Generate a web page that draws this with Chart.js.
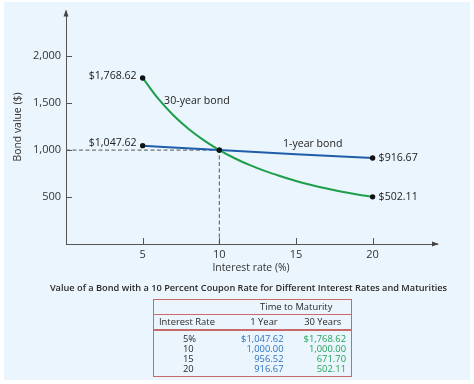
<!DOCTYPE html>
<html>
<head>
<meta charset="utf-8">
<script src="https://cdn.jsdelivr.net/npm/chart.js@4"></script>
<style>
  html, body { margin: 0; padding: 0; background: #fff; }
  body { width: 474px; height: 384px; position: relative; overflow: hidden; font-family: "Open Sans", sans-serif; }
  #panel { position: absolute; left: 4px; top: 2px; width: 466px; height: 378px; background: #eaf5fd; }
  #wrap { position: absolute; left: 0; top: 0; width: 474px; height: 384px; }
  #caption { position: absolute; left: 0; width: 497px; top: 281px; text-align: center; font-size: 9.2px; font-weight: 600; color: #2a2a2a; white-space: nowrap; }
  #tbl { position: absolute; left: 153px; top: 299px; width: 198px; border-collapse: collapse; border: 1.5px solid #c96a6a; table-layout: fixed; font-size: 9.4px; color: #2a2a2a; }
  #tbl td { padding: 0; height: 10px; line-height: 10px; white-space: nowrap; }
  #tbl tr.h1 td { height: 14px; border-bottom: 1px solid #c96a6a; }
  #tbl tr.h2 td { height: 14px; border-bottom: 2px solid #c96a6a; }
  #tbl tr.first td { padding-top: 3px; }
  #tbl tr.last td { padding-bottom: 2px; }
  .c1 { text-align: left; padding-left: 29px !important; }
  .c2 { text-align: right; padding-right: 5px !important; color: #2d72c0; }
  .c3 { text-align: right; padding-right: 5px !important; color: #25a457; }
</style>
</head>
<body>
<div id="panel"></div>
<div id="wrap"><canvas id="myChart" width="474" height="384"></canvas></div>
<div id="caption">Value of a Bond with a 10 Percent Coupon Rate for Different Interest Rates and Maturities</div>
<table id="tbl"></table>
<script>
// table values
const rates = [5, 10, 15, 20];
const oneYear = [1047.62, 1000.00, 956.52, 916.67];
const thirtyYear = [1768.62, 1000.00, 671.70, 502.11];

// 30-year curve at each whole percent
const curveRates = [5, 6, 7, 8, 9, 10, 11, 12, 13, 14, 15, 16, 17, 18, 19, 20];
const thirtyYearCurve = [1768.62, 1550, 1372, 1225, 1103, 1000, 913, 840, 776, 722, 671.70, 628, 590, 556, 527, 502.11];

const markedRates = [5, 10, 20];
const xTicks = [5, 10, 15, 20];
const yTicks = [500, 1000, 1500, 2000];

const green = '#1c9e4b';
const blue = '#1f5da8';
const font = '"Open Sans", sans-serif';

const ctx = document.getElementById('myChart').getContext('2d');

function money(v) {
  return '$' + v.toLocaleString('en-US', { minimumFractionDigits: 2, maximumFractionDigits: 2 });
}

function dotRadius(c) {
  const p = c.raw;
  return p && markedRates.includes(p.x) ? 2.7 : 0;
}

// extra drawing: arrows, tick marks, dashed guides, labels, axis titles
const extras = {
  id: 'extras',
  beforeDatasetsDraw(chart) {
    const c = chart.ctx, x = chart.scales.x, y = chart.scales.y;
    const px = x.getPixelForValue(10), py = y.getPixelForValue(1000);
    c.save();
    c.strokeStyle = '#555';
    c.lineWidth = 1;
    c.setLineDash([4, 2.5]);
    c.beginPath();
    c.moveTo(x.left, py); c.lineTo(px, py);
    c.moveTo(px, y.bottom); c.lineTo(px, py);
    c.stroke();
    c.restore();
  },
  afterDatasetsDraw(chart) {
    const c = chart.ctx, x = chart.scales.x, y = chart.scales.y;
    const a = chart.chartArea;
    c.save();
    c.fillStyle = '#444';
    c.strokeStyle = '#555';
    c.lineWidth = 1;
    // arrow heads
    c.beginPath();
    c.moveTo(a.left, a.top - 2); c.lineTo(a.left - 2.5, a.top + 5); c.lineTo(a.left + 2.5, a.top + 5); c.closePath();
    c.fill();
    c.beginPath();
    c.moveTo(a.right + 2, a.bottom); c.lineTo(a.right - 5, a.bottom - 2.5); c.lineTo(a.right - 5, a.bottom + 2.5); c.closePath();
    c.fill();
    // tick marks, drawn inside the axes
    c.beginPath();
    xTicks.forEach(v => {
      const p = Math.round(x.getPixelForValue(v)) + 0.5;
      c.moveTo(p, a.bottom); c.lineTo(p, a.bottom - 6);
    });
    yTicks.forEach(v => {
      const p = Math.round(y.getPixelForValue(v)) + 0.5;
      c.moveTo(a.left, p); c.lineTo(a.left + 6, p);
    });
    c.stroke();

    // value labels at the ends
    c.fillStyle = '#222';
    c.font = '10.6px ' + font;
    c.textBaseline = 'middle';
    c.textAlign = 'right';
    c.fillText(money(thirtyYear[0]), x.getPixelForValue(rates[0]) - 6, y.getPixelForValue(thirtyYear[0]) - 1.5);
    c.fillText(money(oneYear[0]), x.getPixelForValue(rates[0]) - 6, y.getPixelForValue(oneYear[0]) - 2.5);
    c.textAlign = 'left';
    c.fillText(money(oneYear[3]), x.getPixelForValue(rates[3]) + 6, y.getPixelForValue(oneYear[3]));
    c.fillText(money(thirtyYear[3]), x.getPixelForValue(rates[3]) + 6, y.getPixelForValue(thirtyYear[3]));
    // series names
    c.fillText('30-year bond', x.getPixelForValue(6.4), y.getPixelForValue(1520));
    c.fillText('1-year bond', x.getPixelForValue(14.15), y.getPixelForValue(1060));
    // axis titles
    c.fillStyle = '#333';
    c.textAlign = 'center';
    c.font = '10.4px ' + font;
    c.fillText('Interest rate (%)', 251, 268);
    c.translate(18, 127);
    c.rotate(-Math.PI / 2);
    c.fillText('Bond value ($)', 0, 0);
    c.restore();
  }
};

new Chart(ctx, {
  type: 'line',
  data: {
    datasets: [
      {
        label: '30-year bond',
        data: curveRates.map((r, i) => ({ x: r, y: thirtyYearCurve[i] })),
        borderColor: green,
        borderWidth: 2,
        cubicInterpolationMode: 'monotone',
        pointRadius: dotRadius,
        pointBackgroundColor: '#111',
        pointBorderWidth: 0
      },
      {
        label: '1-year bond',
        data: rates.map((r, i) => ({ x: r, y: oneYear[i] })),
        borderColor: blue,
        borderWidth: 2,
        cubicInterpolationMode: 'monotone',
        pointRadius: dotRadius,
        pointBackgroundColor: '#111',
        pointBorderWidth: 0
      }
    ]
  },
  options: {
    responsive: false,
    animation: false,
    events: [],
    layout: { padding: { left: 4, top: 10, right: 37, bottom: 0 } },
    plugins: { legend: { display: false }, tooltip: { enabled: false } },
    scales: {
      x: {
        type: 'linear',
        min: 0,
        max: 24.2,
        afterBuildTicks: s => { s.ticks = xTicks.map(v => ({ value: v })); },
        afterFit: s => { s.height = 140; },
        grid: { display: false, drawTicks: false },
        border: { display: true, color: '#555', width: 1 },
        ticks: { padding: 4, color: '#333', font: { family: font, size: 11 } }
      },
      y: {
        type: 'linear',
        min: 0,
        max: 2475,
        afterBuildTicks: s => { s.ticks = yTicks.map(v => ({ value: v })); },
        afterFit: s => { s.width = 62; },
        grid: { display: false, drawTicks: false },
        border: { display: true, color: '#555', width: 1 },
        ticks: {
          padding: 5,
          color: '#333',
          font: { family: font, size: 11 },
          callback: v => v.toLocaleString('en-US')
        }
      }
    }
  },
  plugins: [extras]
});

// table below the chart, built from the same arrays
const tbl = document.getElementById('tbl');
let html = '<colgroup><col style="width:82px"><col style="width:53px"><col style="width:63px"></colgroup>';
html += '<tr class="h1"><td></td><td colspan="2" style="text-align:center;padding-left:6px">Time to Maturity</td></tr>';
html += '<tr class="h2"><td style="text-align:left;padding-left:5px">Interest Rate</td><td style="text-align:center;padding-left:4px">1 Year</td><td style="text-align:center;padding-left:6px">30 Years</td></tr>';
rates.forEach((r, i) => {
  const cls = i === 0 ? 'first' : (i === rates.length - 1 ? 'last' : '');
  const a = i === 0 ? money(oneYear[i]) : oneYear[i].toLocaleString('en-US', { minimumFractionDigits: 2 });
  const b = i === 0 ? money(thirtyYear[i]) : thirtyYear[i].toLocaleString('en-US', { minimumFractionDigits: 2 });
  html += '<tr class="' + cls + '"><td class="c1">' + r + (i === 0 ? '%' : '') + '</td><td class="c2">' + a + '</td><td class="c3">' + b + '</td></tr>';
});
tbl.innerHTML = html;
</script>
</body>
</html>
